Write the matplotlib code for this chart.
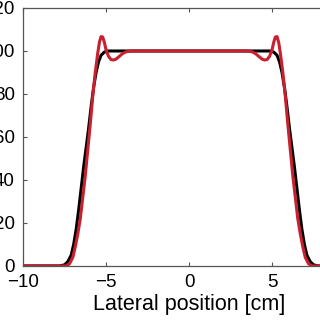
import numpy as np
import matplotlib.pyplot as plt

plt.rcParams['font.family'] = ['Liberation Sans', 'DejaVu Sans']

# left half of each profile; the profiles are symmetric
black_x_half = [-10, -7.8, -7.5, -7.3, -7.1, -6.95, -6.8, -6.65, -6.5, -6.35, -6.2,
                -6.05, -5.9, -5.75, -5.6, -5.45, -5.3, -5.1, -4.9, -4.7, -4.0]
black_y_half = [0, 0, 0.5, 2, 5, 10, 17, 26, 36, 46, 55,
                64, 74, 83, 90, 95, 98, 99.5, 100, 100, 100]

red_x_half = [-10, -7.4, -7.2, -7.0, -6.85, -6.7, -6.55, -6.4, -6.25, -6.1, -5.95,
              -5.8, -5.65, -5.5, -5.4, -5.3, -5.2, -5.1, -5.0, -4.85, -4.7,
              -4.55, -4.4, -4.2, -4.0, -3.8, -3.5]
red_y_half = [0, 0, 1, 4, 9, 15, 22, 32, 42, 54, 66,
              79, 90, 99, 104, 106.7, 106.5, 104, 100.5, 97.5, 96,
              95.8, 96.2, 97.5, 98.8, 99.6, 100]

black_x = black_x_half + [-v for v in black_x_half[::-1]]
black_y = black_y_half + black_y_half[::-1]
red_x = red_x_half + [-v for v in red_x_half[::-1]]
red_y = red_y_half + red_y_half[::-1]

fig = plt.figure(figsize=(3.2, 3.2), dpi=100)
ax = fig.add_axes([0.072, 0.169, 1.0375, 0.806])

ax.plot(black_x, black_y, color='black', lw=2.2)
ax.plot(red_x, red_y, color='#c8202e', lw=2.2)

ax.set_xlim(-10, 10)
ax.set_ylim(0, 120)
ax.set_xticks([-10, -5, 0, 5])
ax.set_yticks([0, 20, 40, 60, 80, 100, 120])
ax.tick_params(direction='in', length=3, width=0.8, labelsize=13.5,
               top=True, right=True, color='#555555', pad=6)
for s in ax.spines.values():
    s.set_color('#555555')
    s.set_linewidth(0.9)
ax.set_xlabel('Lateral position [cm]', fontsize=15.5, labelpad=2)

fig.savefig('out.png', dpi=100)
